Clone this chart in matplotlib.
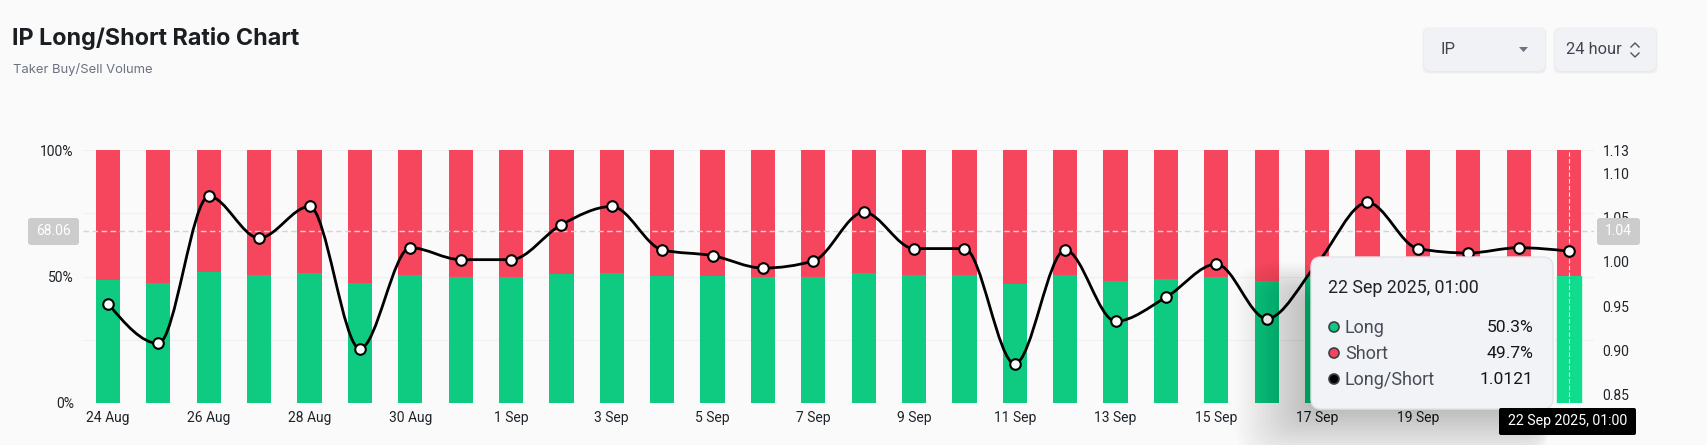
import numpy as np
import matplotlib
matplotlib.use("Agg")
import matplotlib.pyplot as plt
from matplotlib.path import Path
from matplotlib.patches import PathPatch, FancyBboxPatch, Circle

plt.rcParams['font.family'] = ['Roboto', 'DejaVu Sans']

days = ["24 Aug","25 Aug","26 Aug","27 Aug","28 Aug","29 Aug","30 Aug","31 Aug","1 Sep","2 Sep",
        "3 Sep","4 Sep","5 Sep","6 Sep","7 Sep","8 Sep","9 Sep","10 Sep","11 Sep","12 Sep",
        "13 Sep","14 Sep","15 Sep","16 Sep","17 Sep","18 Sep","19 Sep","20 Sep","21 Sep","22 Sep"]
x_tick_labels = ["24 Aug","26 Aug","28 Aug","30 Aug","1 Sep","3 Sep","5 Sep","7 Sep","9 Sep","11 Sep",
                 "13 Sep","15 Sep","17 Sep","19 Sep",""]
long_pct = [48.8,47.6,51.8,50.7,51.5,47.4,50.4,50.0,50.0,51.0,51.5,50.3,50.2,49.7,50.0,51.3,50.4,50.4,
            47.0,50.4,48.3,49.0,49.9,48.3,49.9,51.6,50.4,50.2,50.4,50.3]
short_pct = [100 - v for v in long_pct]
ratio = [0.953,0.908,1.074,1.027,1.0625,0.902,1.016,1.0025,1.0025,1.042,1.0625,1.0135,1.007,0.993,1.001,
         1.056,1.015,1.015,0.885,1.0135,0.933,0.960,0.9975,0.936,0.998,1.067,1.015,1.010,1.016,1.0121]
left_ticks = [0, 25, 50, 75, 100]
left_labels = ["0%", "", "50%", "", "100%"]
right_ticks = [0.85, 0.90, 0.95, 1.00, 1.05, 1.10, 1.126]
right_labels = ["0.85", "0.90", "0.95", "1.00", "1.05", "1.10", "1.13"]
cross_left = 68.06

GREEN, RED = "#0ecb81", "#f6465d"
HOVER_GREEN = "#0fdc8c"
W, H = 1707, 445
BG = "#fafafa"

fig = plt.figure(figsize=(W/100, H/100), dpi=100, facecolor=BG)
L, R, T, B = 82.8, 1594.2, 150.2, 402.8
ax = fig.add_axes([L/W, 1-B/H, (R-L)/W, (B-T)/H], facecolor="none")
x = np.arange(len(days))
bars = ax.bar(x, long_pct, width=0.48, color=GREEN, zorder=2)
bars[-1].set_color(HOVER_GREEN)
ax.bar(x, short_pct, bottom=long_pct, width=0.48, color=RED, zorder=2)
ax.set_xlim(-0.5, len(days)-0.5)
ax.set_ylim(0, 100)
ax.set_yticks(left_ticks, left_labels)
ax.set_xticks(x[::2], x_tick_labels)
ax.tick_params(axis='both', length=0, labelsize=10, labelcolor="#1e2329")
ax.tick_params(axis='x', pad=6)
ax.tick_params(axis='y', pad=6.5)
ax.grid(axis='y', color="#f0f0f0", lw=0.8, zorder=0)
for s in ax.spines.values():
    s.set_visible(False)
ax.axhline(cross_left, color="#d4d4d4", lw=1, ls=(0, (4, 2.5)), zorder=3)
ax.axvline(x[-1], color="#e6e6e6", lw=0.8, ls=(0, (4, 2)), zorder=3)

ax2 = ax.twinx()
ax2.set_ylim(0.841, 1.126)
ax2.set_yticks(right_ticks, right_labels)
ax2.tick_params(axis='y', length=0, labelsize=10, labelcolor="#1e2329", pad=6)
for s in ax2.spines.values():
    s.set_visible(False)

# monotone cubic curve through the ratio points, as Bezier segments
yv = np.asarray(ratio, float)
sl = np.diff(yv)
t = np.zeros_like(yv)
for i in range(1, len(yv)-1):
    a, b = sl[i-1], sl[i]
    t[i] = (np.sign(a)+np.sign(b))*min(abs(a), abs(b), 0.25*abs(a+b))
t[0] = (3*sl[0]-t[1])/2
t[-1] = (3*sl[-1]-t[-2])/2
verts = [(x[0], yv[0])]
codes = [Path.MOVETO]
for i in range(len(yv)-1):
    verts += [(x[i]+1/3, yv[i]+t[i]/3), (x[i+1]-1/3, yv[i+1]-t[i+1]/3), (x[i+1], yv[i+1])]
    codes += [Path.CURVE4]*3
ax2.add_patch(PathPatch(Path(verts, codes), fc="none", ec="black", lw=2.0, zorder=4))
ax2.plot(x, yv, ls="none", marker="o", ms=7.6, mfc="white", mec="black", mew=1.5, zorder=5)

# overlay in pixel coordinates: header, controls, tooltip
ui = fig.add_axes([0, 0, 1, 1], facecolor="none")
ui.set_xlim(0, W)
ui.set_ylim(H, 0)
ui.axis("off")

def box(x0, y0, x1, y1, r, **kw):
    p = FancyBboxPatch((x0+r, y0+r), x1-x0-2*r, y1-y0-2*r,
                       boxstyle=f"round,pad={r},rounding_size={r}", **kw)
    ui.add_patch(p)
    return p

ui.text(12, 38, "IP Long/Short Ratio Chart", fontsize=16.8, fontweight="bold", family="Inter", color="#1a1d21", va="center")
ui.text(13, 69, "Taker Buy/Sell Volume", fontsize=9.4, family="Inter", color="#6b7280", va="center")

for (x0, x1) in [(1424, 1545), (1555, 1656)]:
    for g in range(1, 5):
        box(x0-g/2, 28-g/2+1, x1+g/2, 71+g/2+1, 7, fc="black", ec="none", alpha=0.015)
    box(x0, 28, x1, 71, 7, fc="#f0f2f5", ec="none")
ui.text(1440, 50, "IP", fontsize=12, color="#3f4650", va="center")
ui.fill([1519, 1528, 1523.5], [47, 47, 52], color="#6b7280", lw=0)
ui.text(1566, 50, "24 hour", fontsize=11.8, color="#3f4650", va="center")
ui.plot([1631, 1635, 1639], [47, 43, 47], color="#4b5563", lw=1)
ui.plot([1631, 1635, 1639], [53, 57, 53], color="#4b5563", lw=1)

# crosshair value tags
box(28, 218, 79, 245, 3, fc="#cccccc", ec="none")
ui.text(53.5, 231, "68.06", fontsize=10, color="white", ha="center", va="center")
box(1597, 218, 1640, 245, 3, fc="#cccccc", ec="none")
ui.text(1618.5, 231, "1.04", fontsize=10, color="white", ha="center", va="center")

# tooltip with soft shadow falling to the lower left
for g in np.linspace(75, 4, 20):
    box(1311-g, 300-g*0.5, 1540+g*0.12, 409+g*0.7, 10+g/3, fc="black", ec="none", alpha=0.012)
box(1311, 257, 1553, 409, 10, fc="#f1f3f6", ec="#e2e4e8", lw=1)
ui.text(1328, 288, "22 Sep 2025, 01:00", fontsize=12.8, color="#1e2329", va="center")
rows = [("Long", "50.3%", GREEN, 328), ("Short", "49.7%", RED, 354), ("Long/Short", "1.0121", "black", 380)]
for name, val, col, y in rows:
    ui.add_patch(Circle((1334, y-1), 5, fc=col, ec="#3a3f47", lw=1.2))
    ui.text(1345, y, name, fontsize=13, color="#474d57", va="center")
    ui.text(1533, y, val, fontsize=12.6, color="#14171a", va="center", ha="right")

# date tag on the axis
box(1499, 408, 1636, 435, 2, fc="black", ec="none")
ui.text(1567.5, 421.5, "22 Sep 2025, 01:00", fontsize=10.2, color="white", ha="center", va="center")

fig.savefig("out.png", dpi=100, facecolor=BG)
